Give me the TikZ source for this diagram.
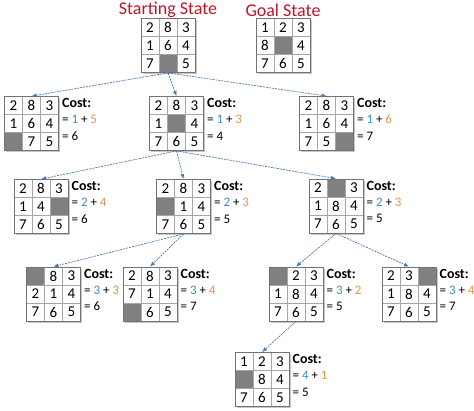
\documentclass[tikz,border=0pt]{standalone}
\usepackage{fontspec}
\setmainfont{Carlito}
\usetikzlibrary{arrows.meta}
\definecolor{tred}{RGB}{192,20,40}
\definecolor{cblue}{RGB}{60,141,200}
\definecolor{corange}{RGB}{232,146,74}
\definecolor{eblue}{RGB}{70,120,180}
\tikzset{
 boardbox/.style={minimum size=54pt, inner sep=0pt, draw=black!55, line width=0.8pt},
 cellbox/.style={draw=black!35, line width=0.6pt, fill=white},
 blankcell/.style={draw=black!35, line width=0.6pt, fill=black!50},
 digit/.style={font=\fontsize{15}{15}\selectfont, inner sep=0pt},
 edge/.style={draw=eblue, dash pattern=on 2pt off 1pt, line width=0.7pt, -{Latex[length=5pt,width=4pt]}},
 costhead/.style={font=\bfseries\fontsize{14}{14}\selectfont, anchor=west, inner sep=0pt},
 costline/.style={font=\fontsize{13}{13}\selectfont, anchor=west, inner sep=0pt},
 title/.style={font=\fontsize{18}{18}\selectfont, text=tred, inner sep=0pt},
}
\newcommand\puz[4]{%
  \fill[black!22] (#2-25.5,#3-25.5) rectangle (#2+28.5,#3+28.5);
  \foreach \v [count=\i from 0] in {#4} {
    \pgfmathtruncatemacro\cc{mod(\i,3)}
    \pgfmathtruncatemacro\rr{div(\i,3)}
    \pgfmathsetmacro\cx{#2-27+18*\cc}
    \pgfmathsetmacro\cy{#3-27+18*\rr}
    \ifnum\v=0\relax
      \draw[blankcell] (\cx,\cy) rectangle ++(18,18);
    \else
      \draw[cellbox] (\cx,\cy) rectangle ++(18,18);
      \node[digit] at (\cx+9,\cy+9) {\v};
    \fi
  }
  \node[boardbox] (#1) at (#2,#3) {};
}
\newcommand\cost[4]{%
  \path (#1.north east) ++(3,7) node[costhead] (#1h) {Cost:}
        ++(0,16.5) node[costline] (#1g) {= \textcolor{cblue}{#2} + \textcolor{corange}{#3}}
        ++(0,16.5) node[costline] (#1f) {= #4};
}
\begin{document}
\begin{tikzpicture}[x=1pt,y=-1pt]
\useasboundingbox (0,0) rectangle (474,410);
\node[title] (tst) at (168,10) {Starting State};
\node[title] (tgo) at (283,10) {Goal State};
\puz{s0}{168}{45.5}{2,8,3,1,6,4,7,0,5}
\puz{goal}{283}{45.5}{1,2,3,8,0,4,7,6,5}
\puz{a1}{31.5}{123.5}{2,8,3,1,6,4,0,7,5}
\puz{a2}{176.5}{123.5}{2,8,3,1,0,4,7,6,5}
\puz{a3}{326.5}{123.5}{2,8,3,1,6,4,7,5,0}
\puz{b1}{41}{206.5}{2,8,3,1,4,0,7,6,5}
\puz{b2}{183.5}{206.5}{2,8,3,0,1,4,7,6,5}
\puz{b3}{336}{206}{2,0,3,1,8,4,7,6,5}
\puz{c1}{53.5}{294}{0,8,3,2,1,4,7,6,5}
\puz{c2}{150}{294}{2,8,3,7,1,4,0,6,5}
\puz{c3}{296}{294}{0,2,3,1,8,4,7,6,5}
\puz{c4}{409}{294}{2,3,0,1,8,4,7,6,5}
\puz{d1}{262}{379.5}{1,2,3,0,8,4,7,6,5}
\cost{a1}{1}{5}{6}
\cost{a2}{1}{3}{4}
\cost{a3}{1}{6}{7}
\cost{b1}{2}{4}{6}
\cost{b2}{2}{3}{5}
\cost{b3}{2}{3}{5}
\cost{c1}{3}{3}{6}
\cost{c2}{3}{4}{7}
\cost{c3}{3}{2}{5}
\cost{c4}{3}{4}{7}
\cost{d1}{4}{1}{5}
\draw[edge] (s0.south) -- (a1.north);
\draw[edge] (s0.south) -- (a2.north);
\draw[edge] (s0.south) -- (a3.north);
\draw[edge] (a2.south) -- (b1.north);
\draw[edge] (a2.south) -- (b2.north);
\draw[edge] (a2.south) -- (b3.north);
\draw[edge] (b2.south) -- (c1.north);
\draw[edge] (b2.south) -- (c2.north);
\draw[edge] (b3.south) -- (c3.north);
\draw[edge] (b3.south) -- (c4.north);
\draw[edge] (c3.south) -- (d1.north);
\end{tikzpicture}
\end{document}
